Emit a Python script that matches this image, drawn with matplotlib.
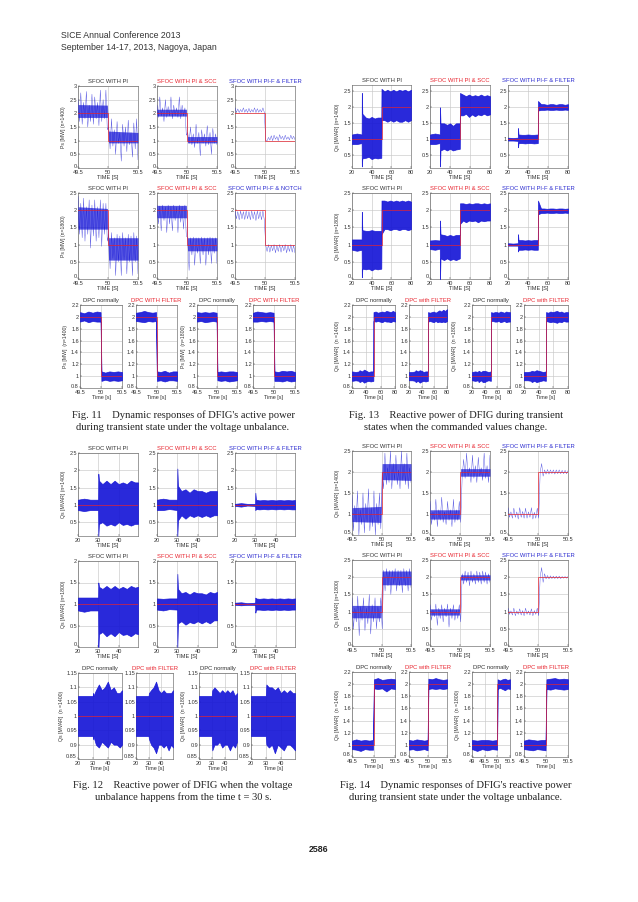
import numpy as np
import matplotlib
matplotlib.use('Agg')
import matplotlib.pyplot as plt
from matplotlib.transforms import ScaledTranslation

W, H = 638, 902
BLUE = '#1212d6'
RED = '#e8252f'

# time bases
T_CORE = [49.5, 49.99, 50.01, 50.5]
T_DPC = [49.5, 49.6, 49.7, 49.8, 49.9, 49.99, 50.01, 50.1, 50.2, 50.3, 50.4, 50.5]
T_DPC_LONG = [49.0, 49.2, 49.4, 49.6, 49.8, 49.99, 50.01, 50.1, 50.2, 50.3, 50.4, 50.5]
T12 = [20, 23, 26, 29.9, 30, 30.3, 32, 34, 36, 38, 40, 42, 44, 46, 48, 49.5]
T13 = [20, 25, 29.8, 30, 30.5, 34, 37, 40, 43, 46, 49.8, 50, 53, 56, 59, 62, 65, 68, 71, 74, 77, 80]

# command values
REF_DOWN_T = [49.5, 50, 50, 50.5]
REF_DOWN = [2, 2, 1, 1]
REF_UP_T = [49.5, 50, 50, 50.5]
REF_UP = [1, 1, 2, 2]
REF_FLAT_T = [20, 49.5]
REF_FLAT = [1, 1]
REF13_T = [20, 50, 50, 80]
REF13 = [1, 1, 2, 2]
REF14_LONG_T = [49, 50, 50, 50.5]

# Fig 11, traces
p11a_trace = [2.5,1.7,2.75,1.6,2.4,1.8,2.8,1.5,2.3,1.7,2.7,1.6,2.6,1.8,2.4,1.55,2.85,1.7,2.5,1.8,2.85,1.4,
              1.5,.7,1.8,.8,1.4,.5,1.7,.9,1.3,.25,1.6,.8,1.5,.6,1.75,.85,1.3,.4,1.65,.7,1.8,.3]
p11a_hi = [2.32, 2.3, 1.35, 1.3]
p11a_lo = [1.85, 1.85, .92, .92]
p11b_trace = [2.3,1.85,2.6,1.9,2.2,1.7,2.5,1.85,2.25,1.9,2.6,1.8,2.3,1.9,2.2,1.85,2.6,1.8,2.3,1.9,2.2,1.2,
              1.3,.9,1.5,.85,1.25,.75,1.6,.9,1.3,.45,1.4,.9,1.25,.8,1.55,.85,1.3,.5,1.45,.9,1.25,.85]
p11b_hi = [2.15, 2.15, 1.15, 1.15]
p11b_lo = [1.9, 1.9, .92, .92]
p11c_trace = [2.2,2.04,2.16,2.03,2.14,2.05,2.2,2.04,2.15,2.03,2.18,2.04,2.14,2.05,2.2,2.03,2.17,2.04,2.14,2.05,2.2,2.04,
              1.02,1.0,1.12,1.02,1.18,1.0,1.2,1.05,1.15,1.0,1.22,1.06,1.16,1.03,1.2,1.05,1.14,1.03,1.2,1.06,1.16,1.04]
p11d_trace = [2.4,1.3,2.2,1.2,2.35,1.1,2.1,1.3,2.3,.9,2.15,1.25,2.3,1.1,2.1,1.2,2.3,.95,2.2,1.3,2.2,1.1,
              1.3,.3,1.35,.6,1.2,.1,1.3,.5,1.25,.1,1.35,.55,1.2,.15,1.3,.5,1.25,.1,1.35,.5,1.25,.15]
p11d_hi = [2.1, 2.05, 1.2, 1.2]
p11d_lo = [1.45, 1.45, .55, .55]
p11e_trace = [2.15,1.6,2.12,1.4,2.15,1.7,2.1,1.35,2.15,1.6,2.12,1.4,2.15,1.7,2.1,1.35,2.15,1.65,2.12,1.45,2.15,1.25,
              1.2,.25,1.2,.7,1.22,.4,1.2,.75,1.2,.45,1.22,.7,1.2,.4,1.2,.7,1.22,.45,1.2,.75,1.2,.45]
p11e_hi = [2.14, 2.14, 1.2, 1.2]
p11e_lo = [1.78, 1.78, .82, .82]
p11f_trace = [1.98,1.75,1.96,1.72,1.98,1.75,1.96,1.73,1.98,1.75,1.96,1.72,1.98,1.75,1.96,1.7,1.98,1.75,1.96,1.72,1.98,1.72,
              .98,.8,1.0,.78,.98,.82,1.0,.76,.98,.8,1.0,.78,.98,.82,1.0,.76,.98,.8,1.0,.78,.98,.76]
# Fig 11, DPC bands
p11g_hi = [2.08,2.06,2.09,2.07,2.09,2.08,1.08,1.06,1.08,1.07,1.08,1.07]
p11g_lo = [1.92,1.94,1.91,1.93,1.92,1.92,.92,.94,.92,.93,.92,.93]
p11h_hi = [2.07,2.08,2.1,2.08,2.07,2.08,1.08,1.07,1.09,1.06,1.08,1.08]
p11h_lo = [1.93,1.92,1.91,1.93,1.92,1.93,.92,.93,.91,.93,.93,.92]
p11i_hi = [2.08,2.07,2.08,2.07,2.08,2.07,1.07,1.08,1.07,1.08,1.08,1.07]
p11i_lo = [1.92,1.93,1.91,1.92,1.93,1.92,.93,.92,.93,.91,.92,.93]
p11j_hi = [2.07,2.09,2.08,2.07,2.08,2.07,1.08,1.07,1.09,1.08,1.09,1.07]
p11j_lo = [1.92,1.92,1.93,1.92,1.93,1.92,.92,.92,.91,.93,.91,.92]

# Fig 12 bands
q12a_hi = [1.15,1.18,1.15,1.15,1.9,1.7,1.6,1.7,1.6,1.7,1.6,1.65,1.6,1.7,1.65,1.65]
q12a_lo = [.85,.82,.85,.85,.1,.45,.5,.4,.45,.4,.5,.42,.45,.4,.45,.45]
q12b_hi = [1.15,1.18,1.15,1.15,2.05,1.55,1.4,1.45,1.35,1.45,1.4,1.4,1.35,1.4,1.4,1.4]
q12b_lo = [.85,.85,.88,.85,.1,.55,.7,.6,.7,.65,.7,.65,.7,.65,.7,.7]
q12c_hi = [1.03,1.05,1.03,1.03,1.35,1.15,1.13,1.14,1.13,1.14,1.13,1.14,1.13,1.14,1.13,1.14]
q12c_lo = [.97,.95,.98,.97,.85,.88,.87,.88,.87,.88,.87,.88,.87,.88,.87,.87]
q12d_hi = [1.15,1.15,1.15,1.15,1.5,1.4,1.35,1.42,1.35,1.42,1.35,1.4,1.35,1.42,1.38,1.4]
q12d_lo = [.85,.82,.85,.85,0,.3,.35,.25,.32,.25,.35,.28,.3,.25,.32,.3]
q12e_hi = [1.13,1.12,1.13,1.13,1.7,1.35,1.25,1.28,1.22,1.28,1.25,1.25,1.22,1.28,1.25,1.28]
q12e_lo = [.87,.85,.88,.87,0,.55,.6,.52,.58,.55,.6,.55,.6,.55,.62,.62]
q12f_hi = [1.03,1.04,1.02,1.03,1.15,1.13,1.12,1.13,1.12,1.13,1.12,1.13,1.12,1.13,1.12,1.13]
q12f_lo = [.98,.97,.98,.98,.8,.87,.87,.86,.87,.86,.87,.86,.87,.86,.87,.87]
q12g_hi = [1.07,1.07,1.07,1.07,1.08,1.07,1.09,1.11,1.09,1.1,1.12,1.09,1.1,1.08,1.08,1.09]
q12g_lo = [.93,.93,.93,.93,.92,.93,.9,.89,.91,.9,.89,.91,.9,.9,.89,.9]
q12h_hi = [1.07,1.07,1.07,1.07,1.07,1.08,1.09,1.1,1.12,1.09,1.08,1.09,1.08,1.08,1.08,1.09]
q12h_lo = [.93,.93,.93,.93,.93,.92,.9,.89,.87,.9,.9,.89,.9,.88,.9,.89]
q12i_hi = [1.07,1.07,1.07,1.07,1.08,1.09,1.1,1.09,1.08,1.09,1.08,1.09,1.08,1.09,1.07,1.08]
q12i_lo = [.93,.93,.93,.93,.92,.88,.9,.9,.91,.89,.9,.9,.88,.9,.89,.91]
q12j_hi = [1.07,1.07,1.07,1.07,1.08,1.11,1.1,1.1,1.09,1.1,1.08,1.09,1.08,1.09,1.08,1.08]
q12j_lo = [.93,.93,.93,.93,.92,.9,.89,.9,.87,.9,.89,.88,.9,.9,.89,.88]

# Fig 13 bands
q13a_hi = [1.15,1.18,1.15,2.45,1.8,1.68,1.65,1.7,1.65,1.68,1.68,2.58,2.5,2.55,2.5,2.55,2.5,2.55,2.52,2.55,2.5,2.55]
q13a_lo = [.85,.85,.88,.15,.4,.42,.45,.38,.42,.4,.42,1.6,1.6,1.55,1.6,1.55,1.6,1.55,1.55,1.6,1.55,1.6]
q13b_hi = [1.15,1.18,1.15,2.0,1.5,1.5,1.45,1.5,1.42,1.5,1.5,2.45,2.4,2.35,2.4,2.35,2.38,2.35,2.4,2.35,2.38,2.35]
q13b_lo = [.85,.85,.88,.15,.65,.7,.65,.7,.65,.68,.7,1.75,1.75,1.8,1.7,1.78,1.72,1.78,1.75,1.8,1.75,1.78]
q13c_hi = [1.05,1.04,1.05,1.35,1.15,1.14,1.14,1.15,1.14,1.14,1.15,2.2,2.1,2.1,2.08,2.1,2.1,2.08,2.1,2.1,2.08,2.1]
q13c_lo = [.96,.96,.95,.75,.88,.88,.87,.88,.88,.87,.88,1.9,1.92,1.92,1.93,1.92,1.92,1.93,1.92,1.92,1.93,1.92]
q13d_hi = [1.15,1.15,1.15,1.95,1.42,1.4,1.4,1.42,1.4,1.4,1.4,2.28,2.28,2.25,2.28,2.25,2.28,2.25,2.28,2.25,2.28,2.25]
q13d_lo = [.85,.82,.85,.05,.3,.28,.3,.25,.3,.28,.3,1.3,1.45,1.45,1.42,1.45,1.45,1.42,1.45,1.45,1.42,1.45]
q13e_hi = [1.12,1.13,1.12,1.7,1.3,1.28,1.25,1.28,1.25,1.28,1.28,2.2,2.2,2.18,2.2,2.18,2.2,2.2,2.18,2.2,2.18,2.2]
q13e_lo = [.87,.85,.88,0,.6,.55,.6,.55,.58,.55,.6,1.6,1.7,1.65,1.7,1.68,1.7,1.65,1.7,1.68,1.7,1.7]
q13f_hi = [1.04,1.03,1.04,1.3,1.13,1.13,1.12,1.13,1.12,1.13,1.13,2.28,2.05,2.05,2.04,2.05,2.05,2.04,2.05,2.05,2.04,2.05]
q13f_lo = [.97,.97,.97,.8,.85,.85,.86,.85,.86,.85,.85,1.88,1.92,1.92,1.93,1.92,1.92,1.93,1.92,1.92,1.93,1.92]
q13g_hi = [1.08,1.07,1.08,1.09,1.1,1.08,1.11,1.09,1.07,1.08,1.08,2.08,2.09,2.07,2.08,2.09,2.08,2.1,2.09,2.08,2.1,2.08]
q13g_lo = [.92,.93,.92,.91,.9,.92,.89,.91,.92,.91,.92,1.93,1.92,1.93,1.92,1.91,1.93,1.92,1.92,1.91,1.93,1.92]
q13h_hi = [1.07,1.07,1.08,1.09,1.1,1.08,1.1,1.09,1.07,1.08,1.08,2.08,2.07,2.08,2.09,2.07,2.09,2.11,2.09,2.12,2.1,2.13]
q13h_lo = [.93,.93,.92,.91,.9,.92,.89,.91,.92,.91,.92,1.92,1.93,1.92,1.91,1.93,1.91,1.92,1.91,1.92,1.91,1.93]
q13i_hi = [1.07,1.08,1.07,1.09,1.09,1.07,1.09,1.09,1.08,1.07,1.08,2.08,2.07,2.08,2.08,2.07,2.09,2.08,2.07,2.09,2.08,2.08]
q13i_lo = [.93,.92,.93,.91,.9,.93,.9,.9,.92,.93,.92,1.93,1.93,1.92,1.92,1.93,1.91,1.92,1.93,1.91,1.92,1.92]
q13j_hi = [1.07,1.07,1.08,1.09,1.09,1.08,1.1,1.09,1.08,1.07,1.08,2.08,2.07,2.09,2.08,2.09,2.1,2.08,2.09,2.07,2.08,2.08]
q13j_lo = [.93,.93,.92,.91,.9,.92,.9,.91,.92,.93,.92,1.93,1.92,1.91,1.92,1.91,1.9,1.92,1.91,1.93,1.92,1.92]

# Fig 14, traces
q14a_trace = [1.45,.6,1.2,.8,1.55,.5,1.1,.75,1.5,.55,1.25,.8,1.6,.6,1.15,.7,1.55,.5,1.25,.75,1.5,.65,
              2.0,1.6,2.45,1.7,2.1,1.75,2.5,1.6,2.2,1.8,2.4,1.7,2.05,1.6,2.5,1.8,2.2,1.7,2.45,1.6,2.1,1.75]
q14a_hi = [1.15, 1.18, 2.2, 2.2]
q14a_lo = [.82, .8, 1.82, 1.8]
q14b_trace = [1.3,.75,1.05,.85,1.35,.7,1.1,.85,1.4,.8,1.05,.75,1.3,.85,1.1,.7,1.35,.8,1.1,.85,1.3,.8,
              1.9,2.3,1.85,2.45,1.9,2.1,1.75,2.4,1.85,2.15,1.75,2.35,1.9,2.1,1.8,2.45,1.85,2.15,1.75,2.4]
q14b_hi = [1.1, 1.1, 2.08, 2.08]
q14b_lo = [.88, .88, 1.9, 1.9]
q14c_trace = [1.15,.92,1.05,.9,1.14,.92,1.05,.88,1.15,.92,1.06,.9,1.14,.9,1.05,.92,1.15,.88,1.04,.9,1.14,.9,
              2.0,2.2,1.9,2.05,1.95,2.06,1.95,2.05,1.96,2.05,1.95,2.05,1.96,2.05,1.96,2.04,1.96,2.04,1.96,2.03]
q14d_trace = [1.4,.5,1.1,.7,1.45,.3,1.15,.75,1.4,.45,1.1,.65,1.5,.35,1.2,.7,1.4,.5,1.15,.7,1.4,.5,
              2.2,1.6,2.25,1.75,2.2,1.5,2.2,1.8,2.25,1.6,2.2,1.75,2.2,1.55,2.25,1.75,2.2,1.6,2.25,1.7]
q14d_hi = [1.18, 1.18, 2.18, 2.18]
q14d_lo = [.82, .82, 1.78, 1.78]
q14e_trace = [1.2,.75,1.05,.85,1.22,.6,1.1,.8,1.2,.7,1.1,.85,1.22,.55,1.1,.8,1.2,.75,1.05,.8,1.2,.7,
              2.1,1.8,2.18,1.85,2.15,1.75,2.18,1.85,2.1,1.8,2.18,1.85,2.15,1.8,2.18,1.85,2.15,1.8,2.1,1.85]
q14e_hi = [1.08, 1.08, 2.07, 2.07]
q14e_lo = [.9, .9, 1.92, 1.92]
q14f_trace = [1.1,.92,1.02,.9,1.1,.88,1.02,.92,1.08,.9,1.03,.88,1.1,.92,1.02,.9,1.08,.88,1.03,.92,1.1,.88,
              2.02,2.28,1.85,2.1,1.95,2.05,1.95,2.04,1.96,2.03,1.96,2.03,1.96,2.03,1.96,2.02,1.97,2.02,1.97,2.02]
q14g_hi = [1.07,1.09,1.07,1.08,1.07,1.08,2.08,2.1,2.07,2.08,2.09,2.08]
q14g_lo = [.93,.92,.9,.93,.92,.92,1.93,1.92,1.93,1.88,1.93,1.92]
q14h_hi = [1.08,1.07,1.09,1.08,1.07,1.08,2.09,2.08,2.1,2.08,2.07,2.08]
q14h_lo = [.92,.93,.91,.92,.93,.91,1.92,1.93,1.92,1.93,1.92,1.93]
q14i_hi = [1.08,1.07,1.08,1.08,1.07,1.08,2.08,2.06,2.08,2.09,2.07,2.08]
q14i_lo = [.93,.9,.93,.91,.93,.92,1.92,1.94,1.92,1.9,1.93,1.92]
q14j_hi = [1.07,1.09,1.08,1.07,1.08,1.08,2.08,2.09,2.1,2.08,2.09,2.08]
q14j_lo = [.93,.92,.91,.93,.92,.91,1.92,1.91,1.93,1.92,1.91,1.92]

# y axes
Y_3 = [0, .5, 1, 1.5, 2, 2.5, 3]
Y_25 = [0, .5, 1, 1.5, 2, 2.5]
Y_25B = [.5, 1, 1.5, 2, 2.5]
Y_2 = [0, .5, 1, 1.5, 2]
Y_22 = [.8, 1, 1.2, 1.4, 1.6, 1.8, 2, 2.2]
Y_115 = [.85, .9, .95, 1, 1.05, 1.1, 1.15]
X_STEP = [49.5, 50, 50.5]
X_LONG = [49, 49.5, 50, 50.5]
X_12 = [20, 30, 40]
X_13 = [20, 40, 60, 80]

TITLE_PI = 'SFOC WITH PI'
TITLE_SCC = 'SFOC WITH PI & SCC'
TITLE_F = 'SFOC WITH PI-F & FILTER'
TITLE_N = 'SFOC WITH PI-F & NOTCH'
TITLE_D = 'DPC normally'
TITLE_DF = 'DPC WITH FILTER'
TITLE_DF2 = 'DPC with FILTER'
TITLE_CLR = {TITLE_PI: '#333333', TITLE_D: '#333333', TITLE_SCC: RED, TITLE_DF: RED, TITLE_DF2: RED,
             TITLE_F: '#2c2cd0', TITLE_N: '#2c2cd0'}

plt.rcParams['font.family'] = 'Liberation Sans'
fig = plt.figure(figsize=(W / 100, H / 100), dpi=100)


def fmt(v):
    return '%g' % v


def make_axes(box, title, xlim, ylim, xticks, yticks, xlabel):
    x0, x1, y0, y1 = box
    ax = fig.add_axes([x0 / W, 1 - y1 / H, (x1 - x0) / W, (y1 - y0) / H])
    ax.set_xlim(xlim)
    ax.set_ylim(ylim)
    ax.set_xticks(xticks)
    ax.set_xticklabels([fmt(v) for v in xticks])
    ax.set_yticks(yticks)
    ax.set_yticklabels([fmt(v) for v in yticks])
    ax.tick_params(direction='in', length=1.2, width=.3, labelsize=4, pad=.8, colors='#333333')
    ax.tick_params(axis='x', pad=1.3)
    # the corner y label sits a little above the corner x label
    if yticks[0] == ylim[0]:
        lab = ax.get_yticklabels()[0]
        lab.set_transform(lab.get_transform() + ScaledTranslation(0, 2.5 / 100, fig.dpi_scale_trans))
    ax.grid(True, color='#c8c8c8', lw=.45)
    ax.set_axisbelow(True)
    for s in ax.spines.values():
        s.set_linewidth(.45)
        s.set_color('#666666')
    ax.set_title(title, fontsize=4.2, color=TITLE_CLR[title], pad=2.2)
    ax.set_xlabel(xlabel, fontsize=4, color='#333333', labelpad=.2)
    return ax


def step(ax, t, v):
    ax.plot(t, v, color=RED, lw=.7, alpha=.7, zorder=5)


def band(ax, t, hi, lo):
    ax.fill_between(t, lo, hi, color=BLUE, lw=.5, alpha=.9, zorder=3)


def trace(ax, vals, hi=None, lo=None):
    if hi is not None:
        ax.fill_between(T_CORE, lo, hi, color=BLUE, lw=0, alpha=.7, zorder=3)
    ax.plot(np.linspace(49.5, 50.5, len(vals)), vals, color=BLUE, lw=.3, alpha=.75, zorder=4)


X3 = [(78, 138), (157, 217), (235, 295)]
X3R = [(352, 411), (430, 490), (508, 568)]
X4 = [(80, 122), (136, 177), (197, 237), (253, 295)]
X4_12 = [(78, 122), (136, 173), (199, 237), (251, 295)]
X4R = [(352, 395), (409, 447), (472, 510), (524, 568)]

# Fig 11
TR_11A = [(p11a_trace, p11a_hi, p11a_lo), (p11b_trace, p11b_hi, p11b_lo), (p11c_trace, None, None)]
TR_11B = [(p11d_trace, p11d_hi, p11d_lo), (p11e_trace, p11e_hi, p11e_lo), (p11f_trace, None, None)]
for i, title in enumerate([TITLE_PI, TITLE_SCC, TITLE_F]):
    ax = make_axes((X3[i][0], X3[i][1], 86, 168), title, (49.5, 50.5), (0, 3), X_STEP, Y_3, 'TIME [S]')
    trace(ax, *TR_11A[i])
    step(ax, REF_DOWN_T, REF_DOWN)
for i, title in enumerate([TITLE_PI, TITLE_SCC, TITLE_N]):
    ax = make_axes((X3[i][0], X3[i][1], 193, 279), title, (49.5, 50.5), (0, 2.5), X_STEP, Y_25, 'TIME [S]')
    trace(ax, *TR_11B[i])
    step(ax, REF_DOWN_T, REF_DOWN)
B_11 = [(p11g_hi, p11g_lo), (p11h_hi, p11h_lo), (p11i_hi, p11i_lo), (p11j_hi, p11j_lo)]
for i, title in enumerate([TITLE_D, TITLE_DF, TITLE_D, TITLE_DF]):
    ax = make_axes((X4[i][0], X4[i][1], 305, 388), title, (49.5, 50.5), (.8, 2.2), X_STEP, Y_22, 'Time [s]')
    band(ax, T_DPC, *B_11[i])
    step(ax, REF_DOWN_T, REF_DOWN)

# Fig 13
B_13A = [(q13a_hi, q13a_lo), (q13b_hi, q13b_lo), (q13c_hi, q13c_lo)]
B_13B = [(q13d_hi, q13d_lo), (q13e_hi, q13e_lo), (q13f_hi, q13f_lo)]
for i, title in enumerate([TITLE_PI, TITLE_SCC, TITLE_F]):
    ax = make_axes((X3R[i][0], X3R[i][1], 85, 168), title, (20, 80), (.1, 2.7), X_13, Y_25B, 'TIME [S]')
    band(ax, T13, *B_13A[i])
    step(ax, REF13_T, REF13)
    ax = make_axes((X3R[i][0], X3R[i][1], 193, 279), title, (20, 80), (0, 2.5), X_13, Y_25, 'TIME [S]')
    band(ax, T13, *B_13B[i])
    step(ax, REF13_T, REF13)
B_13C = [(q13g_hi, q13g_lo), (q13h_hi, q13h_lo), (q13i_hi, q13i_lo), (q13j_hi, q13j_lo)]
for i, title in enumerate([TITLE_D, TITLE_DF2, TITLE_D, TITLE_DF2]):
    ax = make_axes((X4R[i][0], X4R[i][1], 305, 388), title, (20, 80), (.8, 2.2), X_13, Y_22, 'Time [s]')
    band(ax, T13, *B_13C[i])
    step(ax, REF13_T, REF13)

# Fig 12
B_12A = [(q12a_hi, q12a_lo), (q12b_hi, q12b_lo), (q12c_hi, q12c_lo)]
B_12B = [(q12d_hi, q12d_lo), (q12e_hi, q12e_lo), (q12f_hi, q12f_lo)]
for i, title in enumerate([TITLE_PI, TITLE_SCC, TITLE_F]):
    ax = make_axes((X3[i][0], X3[i][1], 453, 536), title, (20, 49.5), (.1, 2.5), X_12, Y_25B, 'TIME [S]')
    band(ax, T12, *B_12A[i])
    step(ax, REF_FLAT_T, REF_FLAT)
    ax = make_axes((X3[i][0], X3[i][1], 561, 647), title, (20, 49.5), (0, 2), X_12, Y_2, 'TIME [S]')
    band(ax, T12, *B_12B[i])
    step(ax, REF_FLAT_T, REF_FLAT)
B_12C = [(q12g_hi, q12g_lo), (q12h_hi, q12h_lo), (q12i_hi, q12i_lo), (q12j_hi, q12j_lo)]
for i, title in enumerate([TITLE_D, TITLE_DF2, TITLE_D, TITLE_DF2]):
    ax = make_axes((X4_12[i][0], X4_12[i][1], 673, 759), title, (20, 49.5), (.85, 1.15), X_12, Y_115, 'Time [s]')
    band(ax, T12, *B_12C[i])
    step(ax, REF_FLAT_T, REF_FLAT)

# Fig 14
TR_14A = [(q14a_trace, q14a_hi, q14a_lo), (q14b_trace, q14b_hi, q14b_lo), (q14c_trace, None, None)]
TR_14B = [(q14d_trace, q14d_hi, q14d_lo), (q14e_trace, q14e_hi, q14e_lo), (q14f_trace, None, None)]
for i, title in enumerate([TITLE_PI, TITLE_SCC, TITLE_F]):
    ax = make_axes((X3R[i][0], X3R[i][1], 451, 535), title, (49.5, 50.5), (.5, 2.5), X_STEP, Y_25B, 'TIME [S]')
    trace(ax, *TR_14A[i])
    step(ax, REF_UP_T, REF_UP)
    ax = make_axes((X3R[i][0], X3R[i][1], 560, 646), title, (49.5, 50.5), (0, 2.5), X_STEP, Y_25, 'TIME [S]')
    trace(ax, *TR_14B[i])
    step(ax, REF_UP_T, REF_UP)
B_14 = [(q14g_hi, q14g_lo), (q14h_hi, q14h_lo), (q14i_hi, q14i_lo), (q14j_hi, q14j_lo)]
for i, title in enumerate([TITLE_D, TITLE_DF2, TITLE_D, TITLE_DF2]):
    if i == 2:
        ax = make_axes((X4R[i][0], X4R[i][1], 672, 757), title, (49, 50.5), (.8, 2.2), X_LONG, Y_22, 'Time [s]')
        band(ax, T_DPC_LONG, *B_14[i])
        step(ax, REF14_LONG_T, REF_UP)
    else:
        ax = make_axes((X4R[i][0], X4R[i][1], 672, 757), title, (49.5, 50.5), (.8, 2.2), X_STEP, Y_22, 'Time [s]')
        band(ax, T_DPC, *B_14[i])
        step(ax, REF_UP_T, REF_UP)

# y labels sit outside the axes, placed on the page
YLABELS = [(64, 127, 'Ps [MW] (n=1400)'), (64, 236, 'Ps [MW] (n=1800)'),
           (66, 346, 'Ps [MW]  (n=1400)'), (183, 346, 'Ps [MW]  (n=1800)'),
           (337, 127, 'Qs [MVAR] (n=1400)'), (337, 236, 'Qs [MVAR] (n=1800)'),
           (337, 346, 'Qs [MVAR]  (n =1400)'), (454, 346, 'Qs [MVAR]  (n =1800)'),
           (64, 494, 'Qs [MVAR] (n=1400)'), (64, 604, 'Qs [MVAR] (n=1800)'),
           (61, 716, 'Qs [MVAR]  (n =1400)'), (184, 716, 'Qs [MVAR]  (n =1800)'),
           (337, 493, 'Qs [MVAR] (n=1400)'), (337, 603, 'Qs [MVAR] (n=1800)'),
           (337, 715, 'Qs [MVAR]  (n =1400)'), (458, 715, 'Qs [MVAR]  (n =1800)')]
for x, y, s in YLABELS:
    fig.text(x / W, 1 - y / H, s, rotation=90, fontsize=3.7, color='#333333', ha='center', va='center')

# page text
CAPTIONS = [(183, 415, "Fig. 11    Dynamic responses of DFIG's active power"),
            (183, 428, 'during transient state under the voltage unbalance.'),
            (456, 415, 'Fig. 13    Reactive power of DFIG during transient'),
            (456, 428, 'states when the commanded values change.'),
            (183, 785, 'Fig. 12    Reactive power of DFIG when the voltage'),
            (183, 797, 'unbalance happens from the time t = 30 s.'),
            (456, 785, "Fig. 14    Dynamic responses of DFIG's reactive power"),
            (456, 798, 'during transient state under the voltage unbalance.')]
for x, y, s in CAPTIONS:
    fig.text(x / W, 1 - y / H, s, family='Liberation Serif', fontsize=7.6, color='#222222', ha='center', va='center')

fig.text(61 / W, 1 - 35 / H, 'SICE Annual Conference 2013', fontsize=6.3, color='#333333', va='center')
fig.text(61 / W, 1 - 47 / H, 'September 14-17, 2013, Nagoya, Japan', fontsize=6.3, color='#333333', va='center')
fig.text(319 / W, 1 - 849 / H, '2586', fontsize=6.4, weight='bold', color='#222222', ha='center', va='center')

fig.savefig('out.png', dpi=100)
